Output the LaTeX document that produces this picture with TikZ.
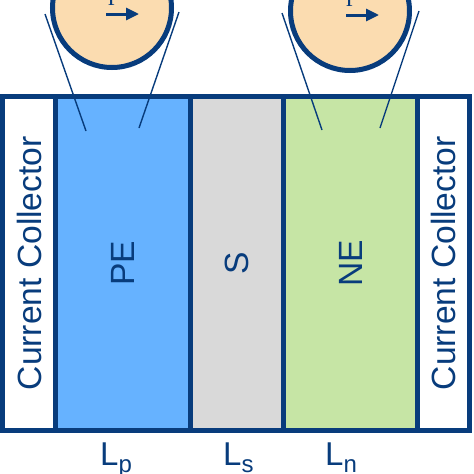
\documentclass[tikz,border=0pt]{standalone}
\usepackage{fontspec}
\setmainfont{Liberation Sans}
\newfontfamily\serifr{Liberation Serif}
\usetikzlibrary{arrows.meta}
\definecolor{dkblue}{RGB}{8,60,124}
\definecolor{peblue}{RGB}{102,178,255}
\definecolor{sgrey}{RGB}{217,217,217}
\definecolor{negreen}{RGB}{198,229,165}
\definecolor{peach}{RGB}{251,220,176}
\tikzset{
  sect/.style={rectangle, draw=dkblue, line width=5pt, inner sep=0pt, rotate=90,
    minimum width=333.5pt, text=dkblue, font=\fontsize{33.6}{34}\selectfont},
  particle/.style={circle, draw=dkblue, line width=5pt, fill=peach, minimum size=119pt, inner sep=0pt},
  zoomline/.style={draw=dkblue, line width=1.4pt},
  radarrow/.style={draw=dkblue, line width=3pt, -{Triangle[length=13pt,width=12pt]}},
  rlabel/.style={text=dkblue, font=\serifr\fontsize{26}{26}\selectfont, anchor=base, inner sep=0pt},
  lenlabel/.style={text=dkblue, font=\fontsize{33}{33}\selectfont, anchor=base west, inner sep=0pt}
}
\newcommand{\subtxt}[1]{{\fontsize{24}{24}\selectfont\raisebox{-7pt}{#1}}}
\begin{document}
\begin{tikzpicture}[x=1pt,y=-1pt]
\useasboundingbox (0,0) rectangle (474,474);
% particles
\node[particle] (c1) at (112,8) {};
\node[particle] (c2) at (350,11) {};
\node[rlabel] (r1) at (112.5,5) {r};
\node[rlabel] (r2) at (350.5,6) {r};
\coordinate (a1s) at (106,14); \coordinate (a1e) at (139,14);
\coordinate (a2s) at (346,15); \coordinate (a2e) at (379,15);
\draw[radarrow] (a1s) -- (a1e);
\draw[radarrow] (a2s) -- (a2e);
% cell sections
\node[sect, fill=white, minimum height=53pt] (ccl) at (29,263.25) {Current Collector};
\node[sect, fill=peblue, minimum height=134.7pt] (pe) at (123.15,263.25) {PE};
\node[sect, fill=sgrey, minimum height=93pt] (s) at (237,263.25) {S};
\node[sect, fill=negreen, minimum height=134.2pt] (ne) at (350.6,263.25) {NE};
\node[sect, fill=white, minimum height=51.8pt] (ccr) at (443.6,263.25) {Current Collector};
% zoom lines
\coordinate (l1a) at (45,14);  \coordinate (l1b) at (86,131);
\coordinate (l2a) at (179,12); \coordinate (l2b) at (139,128);
\coordinate (l3a) at (282,13); \coordinate (l3b) at (322,130);
\coordinate (l4a) at (419,11); \coordinate (l4b) at (380,128);
\draw[zoomline] (l1a) -- (l1b);
\draw[zoomline] (l2a) -- (l2b);
\draw[zoomline] (l3a) -- (l3b);
\draw[zoomline] (l4a) -- (l4b);
% thickness labels
\node[lenlabel] (lp) at (100,465) {L\subtxt{p}};
\node[lenlabel] (ls) at (223,465) {L\subtxt{s}};
\node[lenlabel] (ln) at (325,465) {L\subtxt{n}};
\end{tikzpicture}
\end{document}
